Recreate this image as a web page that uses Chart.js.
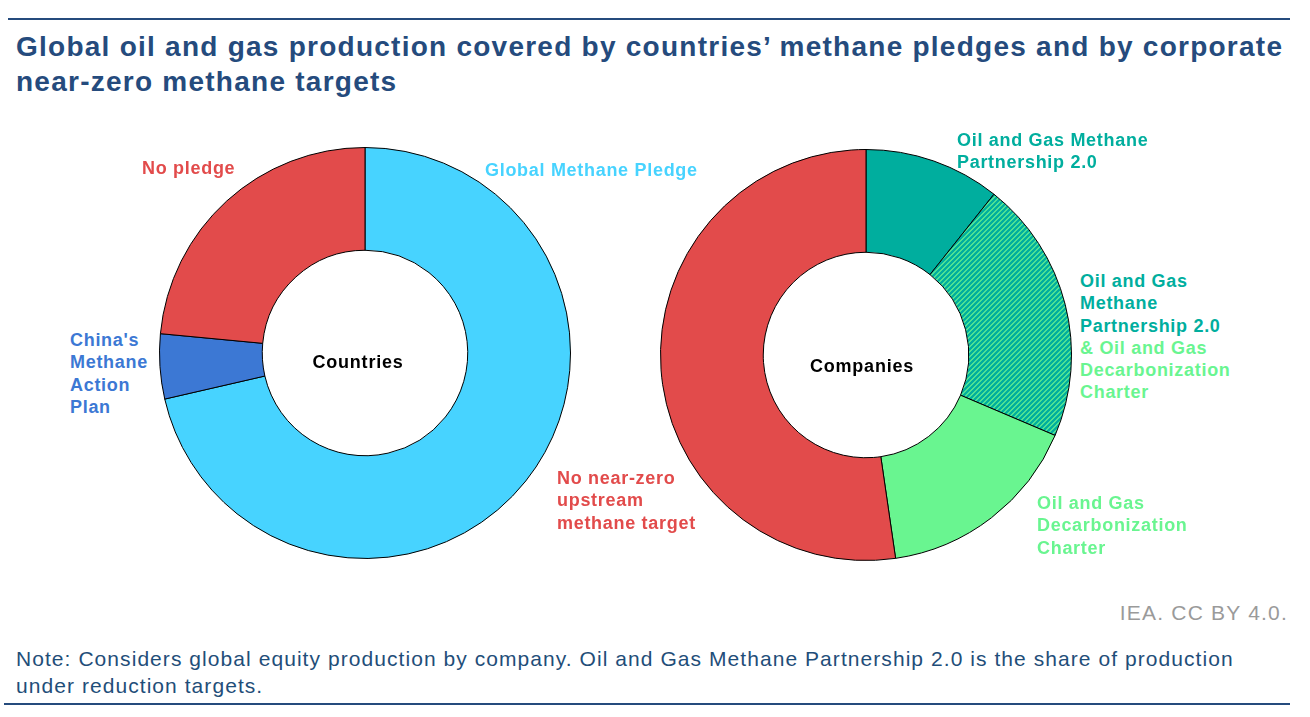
<!DOCTYPE html>
<html>
<head>
<meta charset="utf-8">
<script src="https://cdn.jsdelivr.net/npm/chart.js@4"></script>
<style>
  body { margin: 0; background: #fff; font-family: "Liberation Sans", Arial, sans-serif; }
  #page { position: relative; width: 1310px; height: 717px; overflow: hidden; }
  .rule { position: absolute; height: 2px; background: #254B7D; }
  #title { position: absolute; left: 16px; top: 29px; width: 1294px; font-weight: bold; font-size: 28px; letter-spacing: 1.25px; line-height: 35px; color: #254B7D; white-space: nowrap; }
  .box { position: absolute; }
  .lbl { position: absolute; font-weight: bold; font-size: 18px; letter-spacing: 0.7px; line-height: 22.3px; white-space: nowrap; }
  #credit { position: absolute; right: 22px; top: 601px; font-size: 21px; letter-spacing: 1.2px; line-height: 24px; color: #9a9a9a; }
  #note { position: absolute; left: 16px; top: 645px; font-size: 21px; letter-spacing: 1.06px; line-height: 27px; color: #1F4E79; white-space: nowrap; }
</style>
</head>
<body>
<div id="page">
  <div class="rule" style="left:8px; top:18px; width:1282px;"></div>
  <div id="title">Global oil and gas production covered by countries’ methane pledges and by corporate<br>near-zero methane targets</div>

  <div class="box" style="left:159px; top:147px; width:412px; height:412px;"><canvas id="countries"></canvas></div>
  <div class="box" style="left:660px; top:149px; width:412px; height:412px;"><canvas id="companies"></canvas></div>

  <div class="lbl" style="left:142px; top:157px; color:#E24B4B;">No pledge</div>
  <div class="lbl" style="left:485px; top:159px; color:#47D3FF;">Global Methane Pledge</div>
  <div class="lbl" style="left:70px; top:329px; color:#3C78D4;">China's<br>Methane<br>Action<br>Plan</div>
  <div class="lbl" style="left:557px; top:467px; color:#E24B4B;">No near-zero<br>upstream<br>methane target</div>
  <div class="lbl" style="left:957px; top:129px; color:#00AE9E;">Oil and Gas Methane<br>Partnership 2.0</div>
  <div class="lbl" style="left:1080px; top:270px;"><span style="color:#00AE9E;">Oil and Gas<br>Methane<br>Partnership 2.0</span><br><span style="color:#69F590;">&amp; Oil and Gas<br>Decarbonization<br>Charter</span></div>
  <div class="lbl" style="left:1037px; top:492px; color:#69F590;">Oil and Gas<br>Decarbonization<br>Charter</div>

  <div id="credit">IEA. CC BY 4.0.</div>
  <div id="note">Note: Considers global equity production by company. Oil and Gas Methane Partnership 2.0 is the share of production<br>under reduction targets.</div>
  <div class="rule" style="left:4px; top:703px; width:1286px;"></div>
</div>

<script>
// shares of global oil and gas production (%)
const countryLabels = ['Global Methane Pledge', "China's Methane Action Plan", 'No pledge'];
const countryValues = [71.4, 5.1, 23.5];
const countryColors = ['#47D3FF', '#3C78D4', '#E24B4B'];

const companyLabels = ['Oil and Gas Methane Partnership 2.0',
  'Oil and Gas Methane Partnership 2.0 & Oil and Gas Decarbonization Charter',
  'Oil and Gas Decarbonization Charter',
  'No near-zero upstream methane target'];
const companyValues = [10.7, 20.7, 16.3, 52.3];

// striped fill for the overlap slice
function stripes() {
  const s = 5;
  const c = document.createElement('canvas');
  c.width = s; c.height = s;
  const g = c.getContext('2d');
  g.fillStyle = '#69F590';
  g.fillRect(0, 0, s, s);
  g.strokeStyle = '#00AE9E';
  g.lineWidth = 2.4;
  g.beginPath();
  g.moveTo(0, s); g.lineTo(s, 0);
  g.moveTo(-s / 2, s / 2); g.lineTo(s / 2, -s / 2);
  g.moveTo(s / 2, s * 1.5); g.lineTo(s * 1.5, s / 2);
  g.stroke();
  return g.createPattern(c, 'repeat');
}
const companyColors = ['#00AE9E', stripes(), '#69F590', '#E24B4B'];

const centerText = {
  id: 'centerText',
  afterDraw(chart, args, opts) {
    const arc = chart.getDatasetMeta(0).data[0];
    if (!arc) return;
    const ctx = chart.ctx;
    ctx.save();
    ctx.font = 'bold 18px "Liberation Sans", Arial, sans-serif';
    ctx.letterSpacing = '0.8px';
    ctx.fillStyle = '#000';
    ctx.textAlign = 'center';
    ctx.textBaseline = 'middle';
    ctx.fillText(opts.text, arc.x + (opts.dx || 0), arc.y + (opts.dy || 0));
    ctx.restore();
  }
};

function makeDoughnut(id, labels, values, colors, text, dx, dy) {
  return new Chart(document.getElementById(id), {
    type: 'doughnut',
    data: {
      labels: labels,
      datasets: [{
        data: values,
        backgroundColor: colors,
        borderColor: '#000',
        borderWidth: 1
      }]
    },
    options: {
      responsive: true,
      maintainAspectRatio: false,
      animation: false,
      cutout: '50%',
      layout: { padding: 0 },
      plugins: {
        legend: { display: false },
        tooltip: { enabled: false },
        centerText: { text: text, dx: dx, dy: dy }
      }
    },
    plugins: [centerText]
  });
}

makeDoughnut('countries', countryLabels, countryValues, countryColors, 'Countries', -7, 10);
makeDoughnut('companies', companyLabels, companyValues, companyColors, 'Companies', -4, 12);
</script>
</body>
</html>
